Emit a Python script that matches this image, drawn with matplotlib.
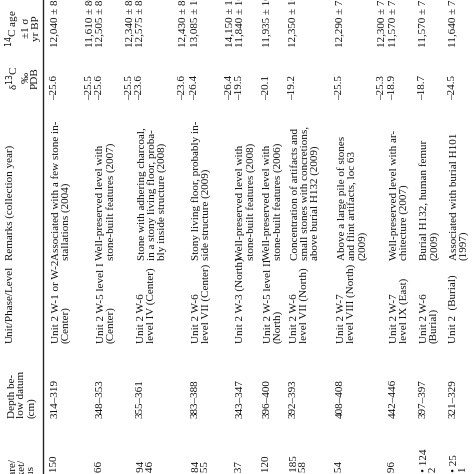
import matplotlib
matplotlib.use("Agg")
import matplotlib.pyplot as plt

plt.rcParams['font.family'] = ['Liberation Serif', 'DejaVu Serif']

# table columns (the page is rotated, so each row is a vertical band)
headers = {
    "age": "$^{14}$C age\n±1 σ\nyr BP",
    "d13c": "δ$^{13}$C\n‰\nPDB",
    "remarks": "Remarks (collection year)",
    "unit": "Unit/Phase/Level",
    "depth": "Depth be-\nlow datum\n(cm)",
    "square": "Square/\nBasket/\nLocus",
}

remarks = [
    "Associated with a few stone in-\nstallations (2004)",
    "Well-preserved level with\nstone-built features (2007)",
    "Stone with adhering charcoal,\nin a stony living floor, proba-\nbly inside structure (2008)",
    "Stony living floor, probably in-\nside structure (2009)",
    "Well-preserved level with\nstone-built features (2008)",
    "Well-preserved level with\nstone-built features (2006)",
    "Concentration of artifacts and\nsmall stones with concretions,\nabove burial H132 (2009)",
    "Above a large pile of stones\nand flint artifacts, loc 63\n(2009)",
    "Well-preserved level with ar-\nchitecture (2007)",
    "Burial H132, human femur\n(2009)",
    "Associated with burial H101\n(1997)",
]
units = [
    "Unit 2 W-1 or W-2\n(Center)",
    "Unit 2 W-5 level I\n(Center)",
    "Unit 2 W-6\nlevel IV (Center)",
    "Unit 2 W-6\nlevel VII (Center)",
    "Unit 2 W-3 (North)",
    "Unit 2 W-5 level II\n(North)",
    "Unit 2 W-6\nlevel VII (North)",
    "Unit 2 W-7\nlevel VIII (North)",
    "Unit 2 W-7\nlevel IX (East)",
    "Unit 2 W-6\n(Burial)",
    "Unit 2  (Burial)",
]
depths = ["314–319", "348–353", "355–361", "383–388", "343–347", "396–400",
          "392–393", "408–408", "442–446", "397–397", "321–329"]
squares = ["Loc 150", "Loc 66", "Bsk 94\nLoc 46", "Bsk 84\nLoc 55", "Loc 37",
           "Loc 120", "Bsk 185\nLoc 58", "Loc 54", "Loc 96", "Bsk • 124\nLoc 2",
           "Bsk • 25\nLoc 1"]
d13c = ["–25.6", "–25.5", "–25.6", "–25.5", "–23.6", "–23.6", "–26.4", "–26.4",
        "–19.5", "–20.1", "–19.2", "–25.5", "–25.3", "–18.9", "–18.7", "–24.5"]
ages = ["12,040 ± 85", "11,610 ± 80", "12,505 ± 85", "12,340 ± 80", "12,575 ± 85",
        "12,430 ± 80", "13,085 ± 100", "14,150 ± 100", "11,840 ± 100",
        "11,935 ± 100", "12,350 ± 100", "12,290 ± 75", "12,300 ± 75",
        "11,570 ± 75", "11,570 ± 75", "11,640 ± 75"]

# layout: horizontal pixel positions of rows and of individual date lines
row_x = [55, 100, 140, 195, 240, 267, 293, 340, 393, 423, 453]
date_x = [55, 90, 100, 130, 140, 183, 195, 230, 240, 267, 293, 340, 382, 393, 423, 453]
col_bottom = {"age": 47, "d13c": 100, "remarks": 260, "unit": 343, "depth": 418, "square": 492}
header_x = 22

fig = plt.figure(figsize=(4.74, 4.74), dpi=100)
ax = fig.add_axes([0, 0, 1, 1])
ax.set_xlim(0, 474)
ax.set_ylim(474, 0)
ax.axis("off")

fs = 8.0
step = 12.4
kw = dict(rotation=90, fontsize=fs, linespacing=1.08, color="#111111",
          ha="center", va="bottom", multialignment="left", clip_on=True)

for key, txt in headers.items():
    n = txt.count("\n")
    x = header_x - (2 - n) * step / 2
    if key in ("d13c", "age"):
        y = 90 if key == "d13c" else col_bottom[key]
        ax.text(header_x, y, txt, **{**kw, "multialignment": "center"})
    else:
        ax.text(x if n else 10, col_bottom[key], txt, **kw)

ax.axvline(43, color="#222222", lw=1.0)


def place(x, y, txt):
    n = txt.count("\n")
    ax.text(x + n * step / 2, y, txt, **kw)


for i, x in enumerate(row_x):
    place(x, col_bottom["remarks"], remarks[i])
    place(x, col_bottom["unit"], units[i])
    place(x, col_bottom["depth"], depths[i])
    place(x, col_bottom["square"], squares[i])

for i, x in enumerate(date_x):
    place(x, col_bottom["d13c"], d13c[i])
    place(x, col_bottom["age"], ages[i])

fig.savefig("out.png", dpi=100, facecolor="white")
